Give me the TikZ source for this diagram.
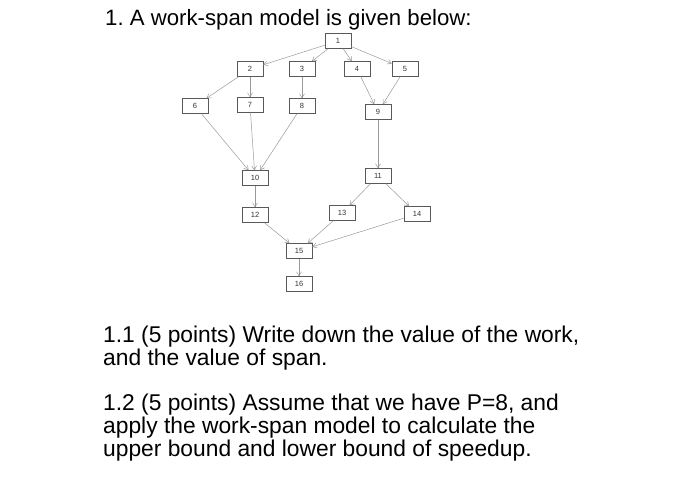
\documentclass[tikz,border=0pt]{standalone}
\usepackage{fontspec}
\setmainfont{Liberation Sans}
\usetikzlibrary{arrows.meta}
\begin{document}
\begin{tikzpicture}[x=1pt,y=-1pt,
  bx/.style={draw=gray!70!black,line width=0.5pt,minimum width=26pt,minimum height=15pt,inner sep=0pt,font=\fontsize{7.5}{8}\selectfont,text=black!80},
  ar/.style={draw=gray!80,line width=0.5pt,-{Straight Barb[length=4pt,width=5pt]}},
  txt/.style={anchor=base west,font=\fontsize{22.8}{23}\selectfont,inner sep=0pt}]
\useasboundingbox (0,0) rectangle (700,498);
\node[txt,font=\fontsize{22.2}{23}\selectfont] (t) at (105,25) {1.\ A work-span model is given below:};
\node[bx] (n1) at (338,41) {1};
\node[bx] (n2) at (250,69) {2};
\node[bx] (n3) at (302,69) {3};
\node[bx] (n4) at (357,69) {4};
\node[bx] (n5) at (405,69) {5};
\node[bx] (n6) at (195,106) {6};
\node[bx] (n7) at (250,105) {7};
\node[bx] (n8) at (302,106) {8};
\node[bx] (n9) at (378,112) {9};
\node[bx] (n10) at (255,178) {10};
\node[bx] (n11) at (378,176) {11};
\node[bx] (n12) at (255,215) {12};
\node[bx] (n13) at (342,213) {13};
\node[bx] (n14) at (417,214) {14};
\node[bx] (n15) at (299,251) {15};
\node[bx] (n16) at (299,284) {16};
\foreach \a/\b in {n1/n2,n1/n3,n1/n4,n1/n5,n2/n6,n2/n7,n3/n8,n4/n9,n5/n9,n6/n10,n7/n10,n8/n10,n9/n11,n10/n12,n11/n13,n11/n14,n12/n15,n13/n15,n14/n15,n15/n16}
  \draw[ar] (\a) -- (\b);
\node[txt] (p1) at (103,342) {1.1 (5 points) Write down the value of the work,};
\node[txt] (p1b) at (103,365) {and the value of span.};
\node[txt] (p2) at (103,410) {1.2 (5 points) Assume that we have P=8, and};
\node[txt] (p2b) at (103,433) {apply the work-span model to calculate the};
\node[txt] (p2c) at (103,456) {upper bound and lower bound of speedup.};
\end{tikzpicture}
\end{document}
